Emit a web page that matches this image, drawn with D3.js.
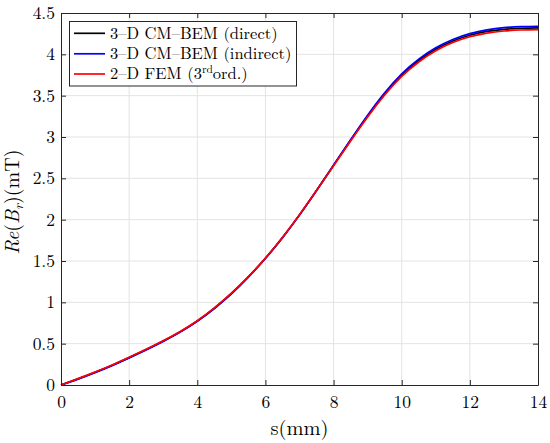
<!DOCTYPE html>
<html><head><meta charset="utf-8">
<script src="https://cdn.jsdelivr.net/npm/d3@7"></script>
<style>
body{margin:0;background:#fff;}
svg{display:block;}
text{font-family:"Latin Modern Roman","CMU Serif","DejaVu Serif",serif;fill:#000;}
</style></head>
<body><svg id="c" width="550" height="443"></svg>
<script>
const sValues = [0,0.5,1,1.5,2,2.5,3,3.5,4,4.5,5,5.5,6,6.5,7,7.5,8,8.5,9,9.5,10,10.5,11,11.5,12,12.5,13,13.5,14];
const femValues = [0,0.0775,0.1575,0.2425,0.335,0.4325,0.535,0.6475,0.7775,0.9325,1.11,1.31,1.535,1.785,2.06,2.3525,2.6525,2.9525,3.2425,3.5075,3.7325,3.9075,4.0425,4.1425,4.2125,4.2575,4.2825,4.2945,4.2995];
const indirectValues = [0,0.0715,0.1495,0.2345,0.327,0.4245,0.527,0.6395,0.7695,0.9245,1.102,1.306,1.531,1.781,2.056,2.3525,2.6605,2.9675,3.2645,3.5355,3.7645,3.9425,4.0785,4.1795,4.2505,4.2965,4.3225,4.3345,4.3395];
const directValues = [0,0.0745,0.1535,0.2385,0.331,0.4285,0.531,0.6435,0.7735,0.9285,1.106,1.308,1.533,1.783,2.058,2.3525,2.6565,2.96,3.2535,3.5215,3.7485,3.925,4.0605,4.161,4.2315,4.277,4.3025,4.3145,4.3195];
const xTicks = [0,2,4,6,8,10,12,14];
const yTicks = [0,0.5,1,1.5,2,2.5,3,3.5,4,4.5];
const yTickLabels = ["0","0.5","1","1.5","2","2.5","3","3.5","4","4.5"];
const seriesNames = ["3\u2013D CM\u2013BEM (direct)","3\u2013D CM\u2013BEM (indirect)","2\u2013D FEM (3"];
const seriesColors = ["#000000","#0000ff","#ff0000"];

const svg = d3.select("#c");
const L=61, R=538, T=13, B=385;
const x = d3.scaleLinear().domain([0,14]).range([L,R]);
const y = d3.scaleLinear().domain([0,4.5]).range([B,T]);
const axisColor="#262626";

// grid
const g = svg.append("g");
g.selectAll(".gx").data(xTicks.slice(1,-1)).enter().append("line")
 .attr("x1",d=>x(d)).attr("x2",d=>x(d)).attr("y1",T).attr("y2",B)
 .attr("stroke","#e3e3e3").attr("stroke-width",1);
g.selectAll(".gy").data(yTicks.slice(1,-1)).enter().append("line")
 .attr("y1",d=>y(d)).attr("y2",d=>y(d)).attr("x1",L).attr("x2",R)
 .attr("stroke","#e3e3e3").attr("stroke-width",1);

// lines
const line = d3.line().x((d,i)=>x(sValues[i])).y(d=>y(d)).curve(d3.curveNatural);
[directValues,indirectValues,femValues].forEach((vals,k)=>{
  svg.append("path").attr("d",line(vals)).attr("fill","none")
   .attr("stroke",seriesColors[k]).attr("stroke-width",1.7);
});

// axes
const tl=5;
const xb = svg.append("g").attr("transform",`translate(0,${B})`)
 .call(d3.axisBottom(x).tickValues(xTicks).tickSizeInner(-tl).tickSizeOuter(0));
const xt = svg.append("g").attr("transform",`translate(0,${T})`)
 .call(d3.axisTop(x).tickValues(xTicks).tickSizeInner(-tl).tickSizeOuter(0).tickFormat(""));
const yl = svg.append("g").attr("transform",`translate(${L},0)`)
 .call(d3.axisLeft(y).tickValues(yTicks).tickFormat((d,i)=>yTickLabels[i]).tickSizeInner(-tl).tickSizeOuter(0));
const yr = svg.append("g").attr("transform",`translate(${R},0)`)
 .call(d3.axisRight(y).tickValues(yTicks).tickSizeInner(-tl).tickSizeOuter(0).tickFormat(""));
[xb,xt,yl,yr].forEach(a=>{
  a.selectAll("path").attr("stroke",axisColor).attr("stroke-width",1);
  a.selectAll("line").attr("stroke",axisColor).attr("stroke-width",1);
  a.selectAll("text").attr("font-family",null).style("font-size","17.5px").attr("fill","#000");
});
xb.selectAll(".tick text").attr("y",23).attr("dy",null);
yl.selectAll(".tick text").attr("x",-6).attr("dy","0.32em");

// axis labels
svg.append("text").attr("x",(L+R)/2).attr("y",435).attr("text-anchor","middle")
 .style("font-size","20.5px").text("s(mm)");
const ylab = svg.append("text").attr("transform",`translate(19,${(T+B)/2+3}) rotate(-90)`)
 .attr("text-anchor","middle").style("font-size","20px");
ylab.append("tspan").attr("font-style","italic").text("Re");
ylab.append("tspan").text("(");
ylab.append("tspan").attr("font-style","italic").text("B");
ylab.append("tspan").attr("font-style","italic").attr("dy","4").style("font-size","14px").text("r");
ylab.append("tspan").attr("dy","-4").text(")(mT)");

// legend
const lg = svg.append("g");
lg.append("rect").attr("x",69.5).attr("y",21.5).attr("width",227).attr("height",64.5)
 .attr("fill","#fff").attr("stroke",axisColor).attr("stroke-width",1);
const ly=[33.3,53.8,74];
seriesNames.forEach((nm,i)=>{
  lg.append("line").attr("x1",74).attr("x2",105).attr("y1",ly[i]).attr("y2",ly[i])
   .attr("stroke",seriesColors[i]).attr("stroke-width",1.7);
  const t = lg.append("text").attr("x",110).attr("y",ly[i]+5.2).style("font-size","16.5px").text(nm);
  if(i===2){
    t.append("tspan").attr("dy","-6.5").style("font-size","11.5px").text("rd");
    t.append("tspan").attr("dy","6.5").text("ord.)");
  }
});
</script></body></html>
